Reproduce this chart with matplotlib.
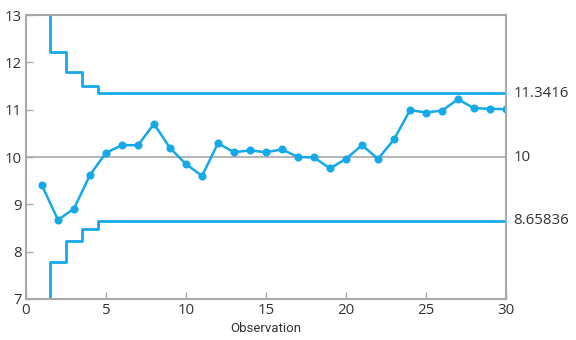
import matplotlib
matplotlib.use("Agg")
import matplotlib.pyplot as plt
import numpy as np

obs = list(range(1, 31))
values = [9.40, 8.67, 8.91, 9.62, 10.09, 10.25, 10.25, 10.70, 10.19, 9.85,
          9.60, 10.29, 10.10, 10.14, 10.10, 10.16, 10.00, 9.99, 9.76, 9.96,
          10.25, 9.96, 10.37, 10.99, 10.94, 10.98, 11.22, 11.03, 11.02, 11.01]
ucl = [13.3, 12.21, 11.79, 11.51] + [11.3416] * 26
lcl = [6.7, 7.79, 8.22, 8.48] + [8.65836] * 26
center = 10.0
right_labels = ["11.3416", "10", "8.65836"]
right_values = [11.3416, 10.0, 8.65836]
xticks = [0, 5, 10, 15, 20, 25, 30]
yticks = [7, 8, 9, 10, 11, 12, 13]

blue = "#14a9e8"
gray = "#a8a8a8"
txt = "#333333"

plt.rcParams['font.family'] = ['Open Sans', 'DejaVu Sans']

fig = plt.figure(figsize=(5.76, 3.4), dpi=100)
ax = fig.add_axes([26/576, 1-299/340, 480/576, 284/340])

ax.axhline(center, color=gray, lw=1.2, zorder=1)
ax.step(obs, ucl, where='mid', color=blue, lw=2, zorder=2)
ax.step(obs, lcl, where='mid', color=blue, lw=2, zorder=2)
ax.plot(obs, values, color=blue, lw=1.8, marker='o', ms=4.8, zorder=3)

ax.set_xlim(0, 30)
ax.set_ylim(7, 13)
ax.set_xticks(xticks)
ax.set_yticks(yticks)
ax.tick_params(direction='in', length=5, width=1, color=gray, labelcolor=txt,
               labelsize=10.8, pad=3)
for s in ax.spines.values():
    s.set_color(gray)
    s.set_linewidth(1.5)
    s.set_zorder(4)

trans = matplotlib.transforms.blended_transform_factory(ax.transAxes, ax.transData)
for lab, v in zip(right_labels, right_values):
    ax.text(1.015, v, lab, transform=trans, ha='left', va='center',
            fontsize=10.8, color=txt)

ax.set_xlabel("Observation", fontsize=9.5, color=txt,
              family=['Liberation Sans Narrow', 'Roboto', 'DejaVu Sans'], labelpad=3)

fig.savefig("out.png", dpi=100)
